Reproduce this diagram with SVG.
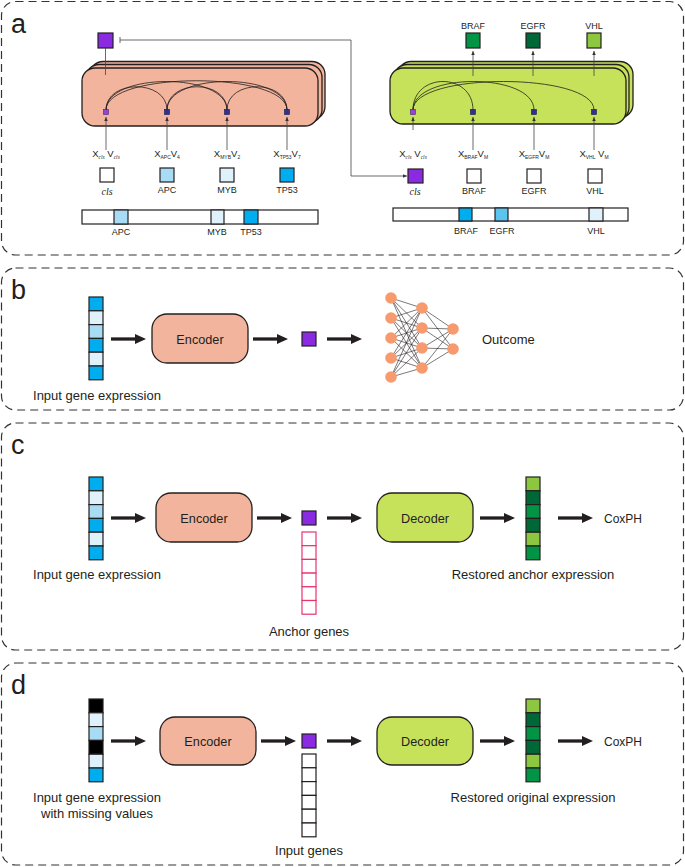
<svg xmlns="http://www.w3.org/2000/svg" width="685" height="867" viewBox="0 0 685 867">
<defs>
<marker id="big" markerUnits="userSpaceOnUse" markerWidth="12" markerHeight="11" refX="3" refY="5" orient="auto"><path d="M0,0 L11,5 L0,10 z" fill="#231f20"/></marker>
<marker id="small" markerUnits="userSpaceOnUse" markerWidth="5" markerHeight="4" refX="4" refY="1.75" orient="auto"><path d="M0,0 L4,1.75 L0,3.5 z" fill="#333"/></marker>
</defs>
<style>
.panel{fill:none;stroke:#333;stroke-width:1.2;stroke-dasharray:8 5}
.lbl{font-family:"Liberation Sans",Arial,sans-serif;fill:#231f20}
.it{font-family:"Liberation Serif","Times New Roman",serif;font-style:italic}
.plet{font-size:27px}
.t13{font-size:13px}
.t9{font-size:9px}
.sq{stroke:#231f20;stroke-width:1.2}
.enc{fill:#f2b49c;stroke:#231f20;stroke-width:1.3}
.dec{fill:#c6e25a;stroke:#231f20;stroke-width:1.3}
.thick{stroke:#231f20;stroke-width:3.3;fill:none;marker-end:url(#big)}
.thin{stroke:#444;stroke-width:0.8;fill:none}
.ta{stroke:#444;stroke-width:0.8;fill:none;marker-end:url(#small)}
.arc{stroke:#231f20;stroke-width:0.8;fill:none}
.nn{stroke:#231f20;stroke-width:0.6}
.neu{fill:#f79a6d}
.pur{fill:#8a2be2}
.pn{fill:#a23cd8;stroke:#3a2a7a;stroke-width:0.6}
.dn{fill:#2e3192;stroke:#1a1a50;stroke-width:0.6}
.b1{fill:#00aeef}.b2{fill:#a7dcf4}.b3{fill:#dff1fa}.b4{fill:#5bc5f0}
.g1{fill:#8dc63f}.g2{fill:#006837}.g3{fill:#009444}
.w{fill:#fff}.k{fill:#000}
.pk{fill:#fff;stroke:#e8336d;stroke-width:1.2}
</style>

<!-- panel borders -->
<g id="panels">
<rect class="panel" x="1.5" y="1.5" width="682" height="253.5" rx="14"/>
<rect class="panel" x="1.5" y="268" width="682" height="142" rx="14"/>
<rect class="panel" x="1.5" y="423" width="682" height="227" rx="14"/>
<rect class="panel" x="1.5" y="663" width="682" height="202" rx="14"/>
<text class="lbl plet" x="11" y="33">a</text>
<text class="lbl plet" x="11" y="299">b</text>
<text class="lbl plet" x="11" y="454">c</text>
<text class="lbl plet" x="11" y="694">d</text>
</g>

<!-- ===== Panel a ===== -->
<g id="a-cls-out"><rect class="sq pur" x="98" y="33" width="15" height="15"/></g>

<g id="a-encoder-stack">
<rect class="enc" x="90" y="61.5" width="235" height="58" rx="13"/>
<rect class="enc" x="86" y="64.5" width="236" height="58" rx="13"/>
<rect class="enc" x="82" y="68" width="236" height="58" rx="13"/>
<path class="arc" d="M106,110 C106,79 167,79 167,110 M167,110 C167,79 227,79 227,110 M227,110 C227,79 287,79 287,110 M106,110 C106,72 227,72 227,110 M167,110 C167,72 287,72 287,110 M106,110 C106,71 287,71 287,110"/>
<rect class="pn" x="103.5" y="109.5" width="5" height="5"/>
<rect class="dn" x="164.5" y="109.5" width="5" height="5"/>
<rect class="dn" x="224.5" y="109.5" width="5" height="5"/>
<rect class="dn" x="284.5" y="109.5" width="5" height="5"/>
</g>

<g id="a-decoder-stack">
<rect class="dec" x="398" y="61.5" width="235" height="56" rx="13"/>
<rect class="dec" x="394" y="64.5" width="235" height="56" rx="13"/>
<rect class="dec" x="390" y="68" width="236" height="56" rx="13"/>
<path class="arc" d="M413,110 C413,72 473,72 473,110 M413,110 C413,72 534,72 534,110 M413,110 C413,72 594,72 594,110"/>
<rect class="pn" x="410.5" y="109.5" width="5" height="5"/>
<rect class="dn" x="470.5" y="109.5" width="5" height="5"/>
<rect class="dn" x="531.5" y="109.5" width="5" height="5"/>
<rect class="dn" x="591.5" y="109.5" width="5" height="5"/>
</g>

<g id="a-left-labels">
<text class="lbl" x="106" y="157" text-anchor="middle" font-size="9.5">X<tspan class="it" font-size="5.5" dy="2">cls</tspan><tspan dy="-2"> V</tspan><tspan class="it" font-size="5.5" dy="2">cls</tspan></text>
<text class="lbl" x="167" y="157" text-anchor="middle" font-size="9.5">X<tspan font-size="5" dy="2">APC</tspan><tspan dy="-2">V</tspan><tspan font-size="5" dy="2">4</tspan></text>
<text class="lbl" x="227" y="157" text-anchor="middle" font-size="9.5">X<tspan font-size="5" dy="2">MYB</tspan><tspan dy="-2">V</tspan><tspan font-size="5" dy="2">2</tspan></text>
<text class="lbl" x="287" y="157" text-anchor="middle" font-size="9.5">X<tspan font-size="5" dy="2">TP53</tspan><tspan dy="-2">V</tspan><tspan font-size="5" dy="2">7</tspan></text>
</g>

<g id="a-left-genes">
<rect class="sq w" x="100" y="168" width="14" height="14"/>
<rect class="sq b2" x="160" y="168" width="14" height="14"/>
<rect class="sq b3" x="220" y="168" width="14" height="14"/>
<rect class="sq b1" x="280" y="168" width="14" height="14"/>
<text class="lbl it" x="107" y="195" text-anchor="middle" font-size="10">cls</text>
<text class="lbl t9" x="167" y="193" text-anchor="middle">APC</text>
<text class="lbl t9" x="227" y="193" text-anchor="middle">MYB</text>
<text class="lbl t9" x="287" y="193" text-anchor="middle">TP53</text>
</g>

<g id="a-left-bar">
<rect class="sq w" x="82" y="210" width="236" height="14"/>
<rect class="sq b2" x="114" y="210" width="14" height="14"/>
<rect class="sq b3" x="211" y="210" width="13" height="14"/>
<rect class="sq b1" x="244" y="210" width="14" height="14"/>
<text class="lbl t9" x="121" y="235" text-anchor="middle">APC</text>
<text class="lbl t9" x="217" y="235" text-anchor="middle">MYB</text>
<text class="lbl t9" x="251" y="235" text-anchor="middle">TP53</text>
</g>

<g id="a-right-out">
<rect class="sq g3" x="466" y="33" width="14" height="15"/>
<rect class="sq g2" x="526" y="33" width="14" height="15"/>
<rect class="sq g1" x="587" y="33" width="14" height="15"/>
<text class="lbl t9" x="473" y="29" text-anchor="middle">BRAF</text>
<text class="lbl t9" x="533" y="29" text-anchor="middle">EGFR</text>
<text class="lbl t9" x="594" y="29" text-anchor="middle">VHL</text>
</g>

<g id="a-right-labels">
<text class="lbl" x="413" y="157" text-anchor="middle" font-size="9.5">X<tspan class="it" font-size="5.5" dy="2">cls</tspan><tspan dy="-2"> V</tspan><tspan class="it" font-size="5.5" dy="2">cls</tspan></text>
<text class="lbl" x="473" y="157" text-anchor="middle" font-size="9.5">X<tspan font-size="5" dy="2">BRAF</tspan><tspan dy="-2">V</tspan><tspan font-size="5" dy="2">M</tspan></text>
<text class="lbl" x="534" y="157" text-anchor="middle" font-size="9.5">X<tspan font-size="5" dy="2">EGFR</tspan><tspan dy="-2">V</tspan><tspan font-size="5" dy="2">M</tspan></text>
<text class="lbl" x="594" y="157" text-anchor="middle" font-size="9.5">X<tspan font-size="5" dy="2">VHL</tspan><tspan dy="-2"> V</tspan><tspan font-size="5" dy="2">M</tspan></text>
</g>

<g id="a-right-genes">
<rect class="sq pur" x="408" y="169" width="15" height="14"/>
<rect class="sq w" x="467" y="169" width="14" height="14"/>
<rect class="sq w" x="527" y="169" width="14" height="14"/>
<rect class="sq w" x="588" y="169" width="14" height="14"/>
<text class="lbl it" x="415" y="195" text-anchor="middle" font-size="10">cls</text>
<text class="lbl t9" x="474" y="194" text-anchor="middle">BRAF</text>
<text class="lbl t9" x="534" y="194" text-anchor="middle">EGFR</text>
<text class="lbl t9" x="595" y="194" text-anchor="middle">VHL</text>
</g>

<g id="a-right-bar">
<rect class="sq w" x="393" y="208" width="235" height="13"/>
<rect class="sq b1" x="459" y="208" width="13" height="13"/>
<rect class="sq b4" x="495" y="208" width="13" height="13"/>
<rect class="sq b3" x="589" y="208" width="14" height="13"/>
<text class="lbl t9" x="466" y="234" text-anchor="middle">BRAF</text>
<text class="lbl t9" x="502" y="234" text-anchor="middle">EGFR</text>
<text class="lbl t9" x="596" y="234" text-anchor="middle">VHL</text>
</g>

<g id="a-connectors">
<line class="thin" x1="105.5" y1="48" x2="105.5" y2="75"/>
<line class="thin" x1="120" y1="37" x2="120" y2="43"/>
<polyline class="ta" points="120,40 351,40 351,176 407,176"/>
<line class="ta" x1="106" y1="150" x2="106" y2="117"/>
<line class="ta" x1="167" y1="150" x2="167" y2="117"/>
<line class="ta" x1="227" y1="150" x2="227" y2="117"/>
<line class="ta" x1="287" y1="150" x2="287" y2="117"/>
<line class="ta" x1="413" y1="130" x2="413" y2="117"/>
<line class="ta" x1="473" y1="150" x2="473" y2="117"/>
<line class="ta" x1="534" y1="150" x2="534" y2="117"/>
<line class="ta" x1="594" y1="150" x2="594" y2="117"/>
<line class="ta" x1="473" y1="76" x2="473" y2="51"/>
<line class="ta" x1="533" y1="76" x2="533" y2="51"/>
<line class="ta" x1="594" y1="76" x2="594" y2="51"/>
</g>

<!-- ===== Panel b ===== -->
<g id="b-input">
<rect class="sq b1" x="89" y="297" width="14" height="13.8"/>
<rect class="sq b3" x="89" y="310.8" width="14" height="13.8"/>
<rect class="sq b2" x="89" y="324.6" width="14" height="13.8"/>
<rect class="sq b1" x="89" y="338.4" width="14" height="13.8"/>
<rect class="sq b3" x="89" y="352.2" width="14" height="13.8"/>
<rect class="sq b1" x="89" y="366" width="14" height="13.8"/>
<text class="lbl t13" x="97" y="400" text-anchor="middle">Input gene expression</text>
</g>
<g id="b-encoder">
<rect class="enc" x="152" y="314" width="96" height="49" rx="15"/>
<text class="lbl" x="200" y="343.5" text-anchor="middle" font-size="12.7">Encoder</text>
</g>
<g id="b-latent"><rect class="sq pur" x="302" y="332" width="14" height="14"/></g>
<g id="b-network">
<g class="nn">
<line x1="391" y1="298" x2="422" y2="308"/><line x1="391" y1="298" x2="422" y2="328"/><line x1="391" y1="298" x2="422" y2="348"/><line x1="391" y1="298" x2="422" y2="368"/>
<line x1="391" y1="318" x2="422" y2="308"/><line x1="391" y1="318" x2="422" y2="328"/><line x1="391" y1="318" x2="422" y2="348"/><line x1="391" y1="318" x2="422" y2="368"/>
<line x1="391" y1="338" x2="422" y2="308"/><line x1="391" y1="338" x2="422" y2="328"/><line x1="391" y1="338" x2="422" y2="348"/><line x1="391" y1="338" x2="422" y2="368"/>
<line x1="391" y1="358" x2="422" y2="308"/><line x1="391" y1="358" x2="422" y2="328"/><line x1="391" y1="358" x2="422" y2="348"/><line x1="391" y1="358" x2="422" y2="368"/>
<line x1="391" y1="377" x2="422" y2="308"/><line x1="391" y1="377" x2="422" y2="328"/><line x1="391" y1="377" x2="422" y2="348"/><line x1="391" y1="377" x2="422" y2="368"/>
<line x1="422" y1="308" x2="453" y2="329"/><line x1="422" y1="308" x2="453" y2="349"/>
<line x1="422" y1="328" x2="453" y2="329"/><line x1="422" y1="328" x2="453" y2="349"/>
<line x1="422" y1="348" x2="453" y2="329"/><line x1="422" y1="348" x2="453" y2="349"/>
<line x1="422" y1="368" x2="453" y2="329"/><line x1="422" y1="368" x2="453" y2="349"/>
</g>
<g class="neu">
<circle cx="391" cy="298" r="5.8"/><circle cx="391" cy="318" r="5.8"/><circle cx="391" cy="338" r="5.8"/><circle cx="391" cy="358" r="5.8"/><circle cx="391" cy="377" r="5.8"/>
<circle cx="422" cy="308" r="5.8"/><circle cx="422" cy="328" r="5.8"/><circle cx="422" cy="348" r="5.8"/><circle cx="422" cy="368" r="5.8"/>
<circle cx="453" cy="329" r="5.8"/><circle cx="453" cy="349" r="5.8"/>
</g>
</g>
<g id="b-outcome"><text class="lbl t13" x="482" y="344">Outcome</text></g>
<g id="b-connectors">
<line class="thick" x1="111" y1="339" x2="138" y2="339"/>
<line class="thick" x1="253" y1="339" x2="280" y2="339"/>
<line class="thick" x1="327" y1="339" x2="354" y2="339"/>
</g>

<!-- ===== Panel c ===== -->
<g id="c-input">
<rect class="sq b1" x="89" y="477" width="14" height="13.8"/>
<rect class="sq b3" x="89" y="490.8" width="14" height="13.8"/>
<rect class="sq b2" x="89" y="504.6" width="14" height="13.8"/>
<rect class="sq b1" x="89" y="518.4" width="14" height="13.8"/>
<rect class="sq b3" x="89" y="532.2" width="14" height="13.8"/>
<rect class="sq b1" x="89" y="546" width="14" height="13.8"/>
<text class="lbl t13" x="97" y="579" text-anchor="middle">Input gene expression</text>
</g>
<g id="c-encoder">
<rect class="enc" x="156" y="493" width="96" height="49" rx="15"/>
<text class="lbl" x="204" y="522.5" text-anchor="middle" font-size="12.7">Encoder</text>
</g>
<g id="c-latent">
<rect class="sq pur" x="302" y="511" width="14" height="14"/>
<rect class="pk" x="302" y="532" width="14" height="13.7"/>
<rect class="pk" x="302" y="545.7" width="14" height="13.7"/>
<rect class="pk" x="302" y="559.4" width="14" height="13.7"/>
<rect class="pk" x="302" y="573.1" width="14" height="13.7"/>
<rect class="pk" x="302" y="586.8" width="14" height="13.7"/>
<rect class="pk" x="302" y="600.5" width="14" height="13.7"/>
<text class="lbl t13" x="309" y="636" text-anchor="middle">Anchor genes</text>
</g>
<g id="c-decoder">
<rect class="dec" x="377" y="493" width="96" height="49" rx="15"/>
<text class="lbl" x="425" y="522.5" text-anchor="middle" font-size="12.7">Decoder</text>
</g>
<g id="c-output">
<rect class="sq g1" x="526" y="477" width="14" height="13.8"/>
<rect class="sq g2" x="526" y="490.8" width="14" height="13.8"/>
<rect class="sq g3" x="526" y="504.6" width="14" height="13.8"/>
<rect class="sq g2" x="526" y="518.4" width="14" height="13.8"/>
<rect class="sq g1" x="526" y="532.2" width="14" height="13.8"/>
<rect class="sq g3" x="526" y="546" width="14" height="13.8"/>
<text class="lbl t13" x="533" y="579" text-anchor="middle">Restored anchor expression</text>
</g>
<g id="c-coxph"><text class="lbl" x="604" y="523" font-size="12">CoxPH</text></g>
<g id="c-connectors">
<line class="thick" x1="111" y1="518" x2="138" y2="518"/>
<line class="thick" x1="257" y1="518" x2="284" y2="518"/>
<line class="thick" x1="327" y1="518" x2="354" y2="518"/>
<line class="thick" x1="480" y1="518" x2="507" y2="518"/>
<line class="thick" x1="558" y1="518" x2="585" y2="518"/>
</g>

<!-- ===== Panel d ===== -->
<g id="d-input">
<rect class="sq k" x="89" y="699" width="14" height="13.8"/>
<rect class="sq b3" x="89" y="712.8" width="14" height="13.8"/>
<rect class="sq b2" x="89" y="726.6" width="14" height="13.8"/>
<rect class="sq k" x="89" y="740.4" width="14" height="13.8"/>
<rect class="sq b3" x="89" y="754.2" width="14" height="13.8"/>
<rect class="sq b1" x="89" y="768" width="14" height="13.8"/>
<text class="lbl t13" x="97" y="802" text-anchor="middle">Input gene expression</text>
<text class="lbl t13" x="97" y="818" text-anchor="middle">with missing values</text>
</g>
<g id="d-encoder">
<rect class="enc" x="160" y="717" width="96" height="48" rx="15"/>
<text class="lbl" x="208" y="745.5" text-anchor="middle" font-size="12.7">Encoder</text>
</g>
<g id="d-latent">
<rect class="sq pur" x="302" y="734" width="14" height="14"/>
<rect class="sq w" x="302" y="754" width="14" height="13.8"/>
<rect class="sq w" x="302" y="767.8" width="14" height="13.8"/>
<rect class="sq w" x="302" y="781.6" width="14" height="13.8"/>
<rect class="sq w" x="302" y="795.4" width="14" height="13.8"/>
<rect class="sq w" x="302" y="809.2" width="14" height="13.8"/>
<rect class="sq w" x="302" y="823" width="14" height="13.8"/>
<text class="lbl t13" x="309" y="855" text-anchor="middle">Input genes</text>
</g>
<g id="d-decoder">
<rect class="dec" x="377" y="717" width="96" height="48" rx="15"/>
<text class="lbl" x="425" y="745.5" text-anchor="middle" font-size="12.7">Decoder</text>
</g>
<g id="d-output">
<rect class="sq g1" x="526" y="699" width="14" height="13.8"/>
<rect class="sq g2" x="526" y="712.8" width="14" height="13.8"/>
<rect class="sq g3" x="526" y="726.6" width="14" height="13.8"/>
<rect class="sq g2" x="526" y="740.4" width="14" height="13.8"/>
<rect class="sq g1" x="526" y="754.2" width="14" height="13.8"/>
<rect class="sq g3" x="526" y="768" width="14" height="13.8"/>
<text class="lbl t13" x="533" y="802" text-anchor="middle">Restored original expression</text>
</g>
<g id="d-coxph"><text class="lbl" x="604" y="746" font-size="12">CoxPH</text></g>
<g id="d-connectors">
<line class="thick" x1="111" y1="741" x2="138" y2="741"/>
<line class="thick" x1="261" y1="741" x2="288" y2="741"/>
<line class="thick" x1="327" y1="741" x2="354" y2="741"/>
<line class="thick" x1="480" y1="741" x2="507" y2="741"/>
<line class="thick" x1="558" y1="741" x2="585" y2="741"/>
</g>
</svg>
